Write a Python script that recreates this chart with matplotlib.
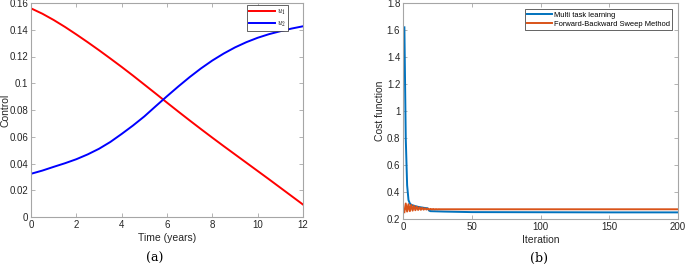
import matplotlib
matplotlib.use("Agg")
import matplotlib.pyplot as plt

plt.rcParams['font.family'] = ['Liberation Sans', 'DejaVu Sans']
plt.rcParams['mathtext.fontset'] = 'cm'

# Panel (a) data
time_years = [0, 0.5, 1, 1.5, 2, 2.5, 3, 3.5, 4, 4.5, 5, 5.5, 6, 6.5, 7, 7.5, 8, 8.5, 9, 9.5, 10, 10.5, 11, 11.5, 12]
u1 = [0.156, 0.152, 0.1473, 0.1421, 0.1365, 0.1307, 0.1247, 0.1185, 0.1122, 0.1057, 0.0990, 0.0923,
      0.0855, 0.0788, 0.0722, 0.0657, 0.0593, 0.0530, 0.0468, 0.0406, 0.0344, 0.0282, 0.0219, 0.0156, 0.0093]
u2 = [0.0323, 0.0347, 0.0375, 0.0402, 0.0432, 0.0468, 0.0510, 0.0561, 0.0621, 0.0684, 0.0752, 0.0828,
      0.0903, 0.0976, 0.1046, 0.1111, 0.1170, 0.1222, 0.1268, 0.1307, 0.1340, 0.1367, 0.1389, 0.1409, 0.1426]

# Panel (b) data
mtl_iter = [1, 2, 3, 4, 5, 6, 8, 10, 12, 15, 18, 19, 20, 30, 50, 100, 150, 200]
mtl_cost = [1.62, 0.80, 0.45, 0.34, 0.315, 0.305, 0.298, 0.292, 0.288, 0.283, 0.279, 0.262, 0.258, 0.255, 0.251, 0.250, 0.249, 0.249]
fbsm_iter = list(range(1, 31)) + [200]
fbsm_cost = [0.25, 0.315, 0.255, 0.31, 0.258, 0.305, 0.262, 0.298, 0.265, 0.292, 0.267, 0.287, 0.268, 0.283, 0.269, 0.280, 0.270, 0.277,
             0.270, 0.275, 0.271, 0.274, 0.271, 0.273, 0.2715, 0.2725, 0.272, 0.272, 0.272, 0.272, 0.272]

fig = plt.figure(figsize=(6.85, 2.67), dpi=100)
W, H = 685, 267
TXT = '#262626'

def style(ax):
    for s in ax.spines.values():
        s.set_color('#a6a6a6')
        s.set_linewidth(0.8)
    ax.tick_params(direction='in', top=True, right=True, length=3, width=0.6,
                   labelsize=7, colors='#a6a6a6', labelcolor=TXT, pad=2)

ax1 = fig.add_axes([31/W, 1 - 217/H, (303-31)/W, (217-3)/H])
ax1.plot(time_years, u1, color='red', lw=1.4, label=r'$u_1$')
ax1.plot(time_years, u2, color='blue', lw=1.4, label=r'$u_2$')
ax1.set_xlim(0, 12)
ax1.set_ylim(0, 0.16)
ax1.set_xticks([0, 2, 4, 6, 8, 10, 12])
ax1.set_yticks([0, 0.02, 0.04, 0.06, 0.08, 0.1, 0.12, 0.14, 0.16])
ax1.set_yticklabels(['0', '0.02', '0.04', '0.06', '0.08', '0.1', '0.12', '0.14', '0.16'])
ax1.set_xlabel('Time (years)', fontsize=7.5, color=TXT, labelpad=2)
ax1.set_ylabel('Control', fontsize=7.5, color=TXT)
ax1.yaxis.set_label_coords((10 - 31) / 272, 0.5)
style(ax1)
leg1 = ax1.legend(loc='upper right', bbox_to_anchor=(288/W, 1 - 5/H), bbox_transform=fig.transFigure,
                  fontsize=5.5, frameon=True, fancybox=False, framealpha=1,
                  edgecolor=TXT, handlelength=3.4, borderpad=0.3, labelspacing=0.35,
                  handletextpad=0.2, borderaxespad=0)
leg1.get_frame().set_linewidth(0.5)

ax2 = fig.add_axes([403/W, 1 - 219/H, (678-403)/W, (219-3)/H])
ax2.plot(mtl_iter, mtl_cost, color='#0072BD', lw=1.4, label='Multi task learning')
ax2.plot(fbsm_iter, fbsm_cost, color='#D95319', lw=1.4, label='Forward-Backward Sweep Method')
ax2.set_xlim(0, 200)
ax2.set_ylim(0.2, 1.8)
ax2.set_xticks([0, 50, 100, 150, 200])
ax2.set_yticks([0.2, 0.4, 0.6, 0.8, 1.0, 1.2, 1.4, 1.6, 1.8])
ax2.set_yticklabels(['0.2', '0.4', '0.6', '0.8', '1', '1.2', '1.4', '1.6', '1.8'])
ax2.set_xlabel('Iteration', fontsize=7.5, color=TXT, labelpad=2)
ax2.set_ylabel('Cost function', fontsize=7.5, color=TXT)
ax2.yaxis.set_label_coords((385 - 403) / 275, 0.5)
style(ax2)
leg2 = ax2.legend(loc='upper right', bbox_to_anchor=(672/W, 1 - 9/H), bbox_transform=fig.transFigure,
                  fontsize=5.45, frameon=True, fancybox=False, framealpha=1,
                  edgecolor=TXT, handlelength=3.3, borderpad=0.3, labelspacing=0.3,
                  handletextpad=0.26, borderaxespad=0)
leg2.get_frame().set_linewidth(0.5)

fig.text(155/W, 1 - 258/H, '(a)', ha='center', va='center', fontsize=9, family='DejaVu Serif')
fig.text(539/W, 1 - 258/H, '(b)', ha='center', va='center', fontsize=9, family='DejaVu Serif')

fig.savefig('out.png', dpi=100)
